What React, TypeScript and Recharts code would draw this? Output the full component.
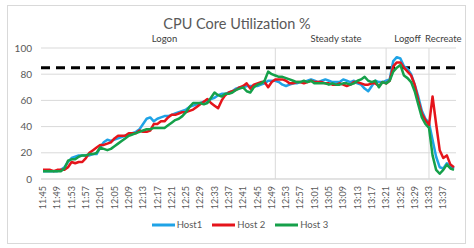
import React from 'react';
import {
  LineChart,
  Line,
  XAxis,
  YAxis,
  CartesianGrid,
  ReferenceLine,
  ReferenceDot,
  Legend,
} from 'recharts';

// One sample per minute, 11:45 – 13:40
const times = [
  '11:45', '11:46', '11:47', '11:48', '11:49', '11:50', '11:51', '11:52', '11:53', '11:54',
  '11:55', '11:56', '11:57', '11:58', '11:59', '12:00', '12:01', '12:02', '12:03', '12:04',
  '12:05', '12:06', '12:07', '12:08', '12:09', '12:10', '12:11', '12:12', '12:13', '12:14',
  '12:15', '12:16', '12:17', '12:18', '12:19', '12:20', '12:21', '12:22', '12:23', '12:24',
  '12:25', '12:26', '12:27', '12:28', '12:29', '12:30', '12:31', '12:32', '12:33', '12:34',
  '12:35', '12:36', '12:37', '12:38', '12:39', '12:40', '12:41', '12:42', '12:43', '12:44',
  '12:45', '12:46', '12:47', '12:48', '12:49', '12:50', '12:51', '12:52', '12:53', '12:54',
  '12:55', '12:56', '12:57', '12:58', '12:59', '13:00', '13:01', '13:02', '13:03', '13:04',
  '13:05', '13:06', '13:07', '13:08', '13:09', '13:10', '13:11', '13:12', '13:13', '13:14',
  '13:15', '13:16', '13:17', '13:18', '13:19', '13:20', '13:21', '13:22', '13:23', '13:24',
  '13:25', '13:26', '13:27', '13:28', '13:29', '13:30', '13:31', '13:32', '13:33', '13:34',
  '13:35', '13:36', '13:37', '13:38', '13:39', '13:40',
];

const host1 = [
  6, 6, 6, 6, 6, 7, 9, 13, 16, 17,
  18, 18, 18, 18, 19, 19, 24, 28, 30, 29,
  30, 31, 32, 33, 34, 35, 36, 38, 42, 46,
  47, 44, 46, 47, 48, 48, 49, 50, 51, 52,
  53, 55, 56, 57, 58, 59, 60, 61, 62, 64,
  65, 65, 66, 67, 69, 70, 70, 71, 71, 71,
  71, 72, 73, 75, 75, 75, 74, 72, 71, 72,
  73, 73, 74, 74, 75, 76, 75, 74, 75, 76,
  75, 74, 74, 74, 76, 75, 74, 75, 73, 72,
  69, 67, 71, 75, 74, 74, 75, 76, 90, 93,
  92, 86, 84, 80, 72, 63, 52, 46, 43, 30,
  17, 9, 8, 12, 10, 8,
];

const host2 = [
  7, 7, 7, 6, 7, 7, 7, 9, 13, 12,
  13, 13, 16, 20, 22, 24, 26, 26, 27, 28,
  31, 33, 33, 33, 35, 35, 35, 37, 36, 36,
  37, 42, 42, 44, 44, 47, 49, 49, 50, 51,
  51, 52, 53, 55, 57, 59, 61, 58, 56, 54,
  60, 64, 66, 67, 68, 70, 71, 73, 69, 72,
  73, 74, 74, 70, 74, 76, 76, 76, 75, 73,
  73, 74, 74, 73, 74, 75, 74, 74, 74, 73,
  73, 72, 72, 73, 72, 71, 72, 74, 74, 73,
  72, 72, 73, 73, 71, 74, 73, 75, 86, 89,
  89, 85, 82, 79, 72, 60, 50, 45, 41, 63,
  42, 22, 16, 18, 11, 9,
];

const host3 = [
  6, 6, 6, 6, 6, 6, 8, 14, 15, 15,
  17, 18, 18, 19, 19, 20, 24, 23, 22, 23,
  25, 27, 29, 31, 33, 34, 35, 36, 37, 38,
  38, 39, 39, 39, 39, 41, 43, 45, 46, 48,
  51, 55, 58, 58, 58, 57, 58, 62, 66, 64,
  63, 65, 65, 66, 68, 69, 70, 67, 66, 70,
  72, 73, 75, 82, 80, 79, 78, 78, 77, 76,
  75, 74, 74, 75, 74, 75, 73, 73, 73, 73,
  72, 73, 72, 72, 73, 73, 72, 73, 75, 76,
  78, 75, 74, 75, 70, 74, 73, 75, 82, 85,
  87, 79, 77, 74, 67, 57, 47, 42, 39, 18,
  7, 4, 7, 11, 8, 7,
];

const seriesKeys = ['host1', 'host2', 'host3'];
const seriesNames = ['Host1', 'Host 2', 'Host 3'];
const seriesColors = ['#1fa3e6', '#e5141b', '#15a04a'];

const yTicks = [0, 10, 20, 30, 40, 50, 60, 70, 80, 90, 100];
const threshold = 85;

// Phase boundaries and the minute each phase caption sits over
const phaseBoundaries = ['12:50', '13:21', '13:33'];
const phaseCaptions = ['Logon', 'Steady state', 'Logoff', 'Recreate'];
const phaseCaptionAt = ['12:19', '13:07', '13:27', '13:37'];

const data = times.map((t, i) => ({
  time: t,
  host1: host1[i],
  host2: host2[i],
  host3: host3[i],
}));

const FONT = 'Lato, "Open Sans", sans-serif';

const TimeTick = (props: any) => {
  const { x, y, payload } = props;
  return (
    <text
      x={x}
      y={y}
      transform={`rotate(-90, ${x}, ${y})`}
      textAnchor="end"
      dy="0.35em"
      fill="#595959"
      fontSize={9}
      fontFamily={FONT}
    >
      {payload.value}
    </text>
  );
};

// Legend keeps the series in their drawing order
const LegendContent = () => (
  <div
    style={{
      display: 'flex',
      justifyContent: 'center',
      alignItems: 'center',
      paddingLeft: 6,
      fontFamily: FONT,
      fontSize: 9.5,
      color: '#595959',
    }}
  >
    {seriesNames.map((name, i) => (
      <span
        key={name}
        style={{ display: 'inline-flex', alignItems: 'center', margin: '0 5px' }}
      >
        <svg width={23} height={4} style={{ marginRight: 2 }}>
          <line x1={0} y1={2} x2={23} y2={2} stroke={seriesColors[i]} strokeWidth={3} />
        </svg>
        {name}
      </span>
    ))}
  </div>
);

export default function App() {
  return (
    <div
      style={{
        position: 'absolute',
        left: 0,
        top: 0,
        width: 474,
        height: 248,
        background: '#ffffff',
      }}
    >
      <div
        style={{
          position: 'absolute',
          left: 7,
          top: 5,
          width: 459,
          height: 239,
          boxSizing: 'border-box',
          border: '1px solid #d9d9d9',
        }}
      />
      <div
        style={{
          position: 'absolute',
          left: 0,
          top: 15,
          width: 474,
          textAlign: 'center',
          fontFamily: FONT,
          fontSize: 14.5,
          color: '#595959',
          lineHeight: '18px',
        }}
      >
        CPU Core Utilization %
      </div>
      <div style={{ position: 'absolute', left: 0, top: 0 }}>
        <LineChart
          width={474}
          height={248}
          data={data}
          margin={{ top: 48, right: 18, left: 0, bottom: 0 }}
        >
          <CartesianGrid vertical={false} stroke="#d9d9d9" strokeWidth={1} />
          <XAxis
            dataKey="time"
            interval={3}
            height={69}
            padding={{ left: 2, right: 2 }}
            tickLine={false}
            tickSize={0}
            tickMargin={7}
            axisLine={{ stroke: '#d9d9d9' }}
            tick={<TimeTick />}
          />
          <YAxis
            domain={[0, 100]}
            ticks={yTicks}
            width={41}
            axisLine={false}
            tickLine={false}
            tickSize={0}
            tickMargin={9}
            tick={{ fill: '#595959', fontSize: 10, fontFamily: FONT }}
          />
          {phaseBoundaries.map((b) => (
            <ReferenceLine key={b} x={b} stroke="#d9d9d9" strokeWidth={1} />
          ))}
          {phaseCaptions.map((c, i) => (
            <ReferenceDot
              key={c}
              x={phaseCaptionAt[i]}
              y={100}
              r={0}
              fill="none"
              stroke="none"
              label={{
                value: c,
                position: 'top',
                offset: 6,
                fill: '#404040',
                fontSize: 9.5,
                fontFamily: FONT,
              }}
            />
          ))}
          <ReferenceLine
            y={threshold}
            stroke="#000000"
            strokeWidth={3}
            strokeDasharray="9 6"
          />
          {seriesKeys.map((k, i) => (
            <Line
              key={k}
              type="linear"
              dataKey={k}
              name={seriesNames[i]}
              stroke={seriesColors[i]}
              strokeWidth={2.5}
              dot={false}
              strokeLinejoin="round"
              isAnimationActive={false}
            />
          ))}
          <Legend
            layout="horizontal"
            verticalAlign="middle"
            align="center"
            wrapperStyle={{ top: 219, left: 0, width: 474 }}
            content={<LegendContent />}
          />
        </LineChart>
      </div>
    </div>
  );
}
